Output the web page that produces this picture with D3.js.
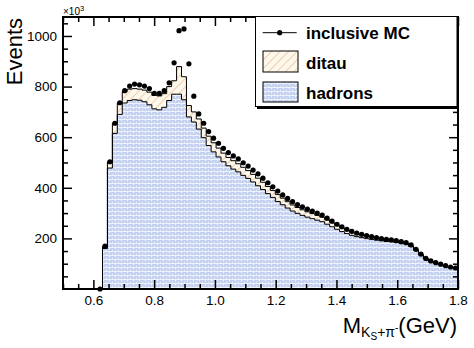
<!DOCTYPE html>
<html><head><meta charset="utf-8">
<script src="https://cdn.jsdelivr.net/npm/d3@7"></script>
<style>body{margin:0;background:#fff}svg{display:block}text{font-family:"Liberation Sans",Arial,Helvetica,sans-serif}</style>
</head><body><svg id="c" width="474" height="348"></svg>
<script>
// Histogram definition: 80 bins over [0.5, 1.8]
const xMin = 0.5, xMax = 1.8, nBins = 80;
const firstBin = 8; // index of first filled bin
// inclusive MC points (start at bin 7)
const mcFirst = 7;
const inclusiveMC = [0,170,503,655,736,784,802,810,807,802,792,773,773,784,815,894,1021,1028,890,762,
  692,655,622,596,576,556,539,526,514,499,486,470,455,438,420,404,387,372,358,345,
  334,325,316,308,300,292,280,268,256,246,236,228,221,216,211,207,203,199,196,194,
  191,187,183,174,157,138,121,111,104,98,92,87,83];
// hadrons (bins 8..79)
const hadrons = [160,478,615,690,735,745,748,746,740,728,712,708,718,745,770,770,748,680,660,632,
  598,567,542,522,503,487,474,463,449,437,423,408,393,377,362,346,333,320,308,299,
  291,284,278,272,266,256,246,236,227,219,212,207,203,199,196,193,191,188,187,184,
  181,177,168,152,134,118,108,101,95,89,84,80];
// ditau (bins 8..79)
const ditau = [8,25,40,45,45,45,44,44,46,50,53,55,54,55,53,109,91,45,40,40,
  38,37,36,35,34,33,33,32,32,31,30,30,29,28,27,27,26,25,24,23,
  22,21,20,19,18,17,16,15,14,13,12,11,10,9,8,7,6,6,5,5,
  4,4,3,3,2,2,2,2,2,1,1,1];
const xMajorTicks = [0.6,0.8,1.0,1.2,1.4,1.6,1.8];
const xMinorTicks = [0.5,0.55,0.65,0.7,0.75,0.85,0.9,0.95,1.05,1.1,1.15,1.25,1.3,1.35,1.45,1.5,1.55,1.65,1.7,1.75];
const yMajorTicks = [200,400,600,800,1000];
const yMinorTicks = [50,100,150,250,300,350,450,500,550,650,700,750,850,900,950,1050];

const svg = d3.select("#c");
const L=63, R=458, T=17, B=289;
const x = d3.scaleLinear([xMin,xMax],[L,R]);
const y = d3.scaleLinear([0,1075],[B,T]);
const bw = (xMax-xMin)/nBins;

const defs = svg.append("defs");
const ph = defs.append("pattern").attr("id","had").attr("patternUnits","userSpaceOnUse").attr("width",6).attr("height",4);
ph.append("rect").attr("width",6).attr("height",4).attr("fill","#c4d0ef");
ph.append("line").attr("x1",0).attr("x2",6).attr("y1",3.5).attr("y2",3.5).attr("stroke","#eef2fb").attr("stroke-width",1);
ph.append("line").attr("x1",1.5).attr("x2",1.5).attr("y1",0).attr("y2",1.5).attr("stroke","#eef2fb").attr("stroke-width",1);
ph.append("line").attr("x1",4.5).attr("x2",4.5).attr("y1",1.5).attr("y2",3).attr("stroke","#e3e9f8").attr("stroke-width",1);
const pd = defs.append("pattern").attr("id","dit").attr("patternUnits","userSpaceOnUse").attr("width",6).attr("height",6).attr("patternTransform","rotate(45)");
pd.append("rect").attr("width",6).attr("height",6).attr("fill","#fdf7ec");
pd.append("line").attr("x1",0.5).attr("x2",0.5).attr("y1",0).attr("y2",6).attr("stroke","#efcfae").attr("stroke-width",1);

function stepPts(vals, start){
  const pts=[[x(xMin+start*bw),y(0)]];
  vals.forEach((v,i)=>{const k=start+i;pts.push([x(xMin+k*bw),y(v)]);pts.push([x(xMin+(k+1)*bw),y(v)]);});
  return pts;
}
const total = hadrons.map((h,i)=>h+ditau[i]);
const line = d3.line();
const pTot = stepPts(total, firstBin), pHad = stepPts(hadrons, firstBin);
const closeArea = pts => line(pts.concat([[pts[pts.length-1][0],y(0)]]))+"Z";
svg.append("path").attr("d",closeArea(pTot)).attr("fill","url(#dit)");
svg.append("path").attr("d",closeArea(pHad)).attr("fill","url(#had)");
svg.append("path").attr("d",line(pTot)).attr("fill","none").attr("stroke","#000").attr("stroke-width",1);
svg.append("path").attr("d",line(pHad)).attr("fill","none").attr("stroke","#000").attr("stroke-width",1);

svg.append("g").selectAll("circle").data(inclusiveMC).join("circle")
  .attr("cx",(d,i)=>x(xMin+(mcFirst+i+0.5)*bw)).attr("cy",d=>y(d)).attr("r",2.6).attr("fill","#000");

// axes
const fmt = d3.format(".1f");
svg.append("g").attr("transform",`translate(0,${B})`).call(d3.axisBottom(x).tickValues(xMajorTicks).tickSize(-9).tickPadding(6).tickFormat(fmt));
svg.append("g").attr("transform",`translate(0,${B})`).call(d3.axisBottom(x).tickValues(xMinorTicks).tickSize(-5).tickFormat(""));
svg.append("g").attr("transform",`translate(0,${T})`).call(d3.axisTop(x).tickValues(xMajorTicks).tickSize(-9).tickFormat(""));
svg.append("g").attr("transform",`translate(0,${T})`).call(d3.axisTop(x).tickValues(xMinorTicks).tickSize(-5).tickFormat(""));
svg.append("g").attr("transform",`translate(${L},0)`).call(d3.axisLeft(y).tickValues(yMajorTicks).tickSize(-9).tickPadding(6).tickFormat(d3.format("d")));
svg.append("g").attr("transform",`translate(${L},0)`).call(d3.axisLeft(y).tickValues(yMinorTicks).tickSize(-5).tickFormat(""));
svg.append("g").attr("transform",`translate(${R},0)`).call(d3.axisRight(y).tickValues(yMajorTicks).tickSize(-9).tickFormat(""));
svg.append("g").attr("transform",`translate(${R},0)`).call(d3.axisRight(y).tickValues(yMinorTicks).tickSize(-5).tickFormat(""));
svg.selectAll(".domain").remove();
svg.selectAll(".tick line").attr("stroke","#000").attr("stroke-width",1.5);
svg.selectAll(".tick text").attr("font-size",13.5).attr("fill","#000").attr("font-family","Liberation Sans, Arial, sans-serif");
svg.append("rect").attr("x",L).attr("y",T).attr("width",R-L).attr("height",B-T).attr("fill","none").attr("stroke","#000").attr("stroke-width",2);

// ×10^3
const e = svg.append("text").attr("x",63).attr("y",15).attr("font-size",10);
e.append("tspan").text("×10");
e.append("tspan").attr("dy",-4).attr("font-size",7.5).text("3");

// y title
svg.append("text").attr("transform","translate(22,18) rotate(-90)").attr("text-anchor","end").attr("font-size",22).text("Events");

// x title
const xt = svg.append("text").attr("x",457).attr("y",333).attr("text-anchor","end").attr("font-size",22);
xt.append("tspan").text("M");
xt.append("tspan").attr("dy",4).attr("font-size",14).text("K");
xt.append("tspan").attr("dy",3).attr("font-size",10).text("S");
xt.append("tspan").attr("dy",-3).attr("font-size",14).text("+π");
xt.append("tspan").attr("dy",-6).attr("font-size",10).text("-");
xt.append("tspan").attr("dy",2).attr("font-size",22).text("(GeV)");

// legend
const lg = svg.append("g");
lg.append("rect").attr("x",257).attr("y",19).attr("width",202).attr("height",90).attr("fill","#000");
lg.append("rect").attr("x",255.5).attr("y",16.5).attr("width",201.5).attr("height",90).attr("fill","#fff").attr("stroke","#000").attr("stroke-width",1);
lg.append("line").attr("x1",262.7).attr("x2",296.7).attr("y1",32.7).attr("y2",32.7).attr("stroke","#000");
lg.append("circle").attr("cx",279.7).attr("cy",32.7).attr("r",2.6);
lg.append("rect").attr("x",263).attr("y",51).attr("width",35).attr("height",21).attr("fill","url(#dit)").attr("stroke","#000");
lg.append("rect").attr("x",263).attr("y",82).attr("width",35).attr("height",20).attr("fill","url(#had)").attr("stroke","#000");
const labels = ["inclusive MC","ditau","hadrons"], lys=[38.5,69,99.3];
labels.forEach((t,i)=>lg.append("text").attr("x",306).attr("y",lys[i]).attr("font-size",17).attr("font-weight","bold").text(t));
</script></body></html>
